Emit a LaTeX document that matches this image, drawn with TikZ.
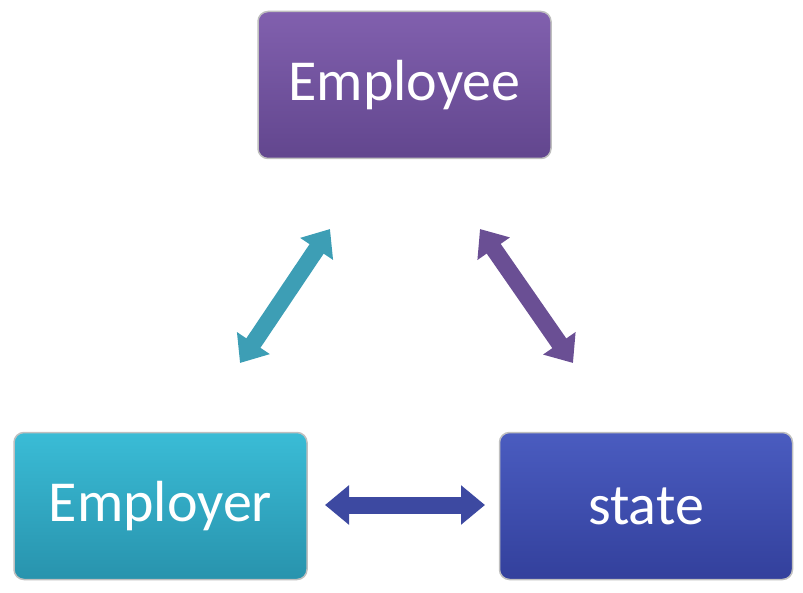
\documentclass[tikz,border=0pt]{standalone}
\usepackage{fontspec}
\setmainfont{Carlito}
\usetikzlibrary{arrows.meta}
\definecolor{purA}{HTML}{8160AE}\definecolor{purB}{HTML}{62468E}
\definecolor{tealA}{HTML}{3ABCD6}\definecolor{tealB}{HTML}{2893AD}
\definecolor{bluA}{HTML}{4A5CC0}\definecolor{bluB}{HTML}{33409C}
\tikzset{
 box/.style={rounded corners=10pt,minimum width=293pt,minimum height=147pt,text=white,font=\fontsize{58}{68}\selectfont,draw=white!75!black,line width=1.5pt,inner sep=0pt},
 conn/.style={line width=17pt,{Triangle[width=38pt,length=24pt]}-{Triangle[width=38pt,length=24pt]}}
}
\begin{document}
\begin{tikzpicture}[x=1pt,y=-1pt]
\useasboundingbox (0,0) rectangle (803,593);
\node[box,top color=purA,bottom color=purB] (emp) at (404.5,85) {Employee};
\node[box,top color=tealA,bottom color=tealB] (er) at (160.5,506) {Employer};
\node[box,top color=bluA,bottom color=bluB] (st) at (646,506) {state};
\coordinate (l1) at (240,363); \coordinate (l2) at (330,229);
\coordinate (r1) at (480,229); \coordinate (r2) at (573,363);
\coordinate (b1) at (325,505); \coordinate (b2) at (485,505);
\draw[conn,tealB!90!white] (l1) -- (l2);
\draw[conn,purB!95!white] (r1) -- (r2);
\draw[conn,bluB!95!white] (b1) -- (b2);
\end{tikzpicture}
\end{document}
